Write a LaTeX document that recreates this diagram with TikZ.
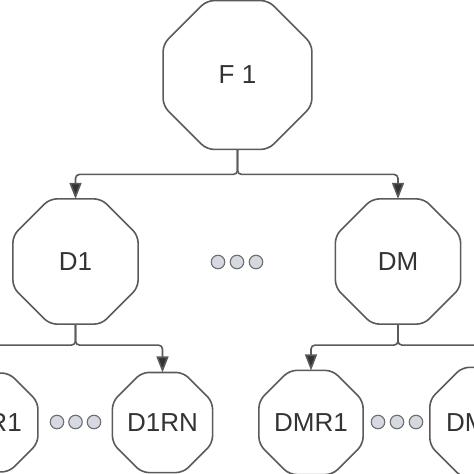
\documentclass[tikz,border=0pt]{standalone}
\usepackage{fontspec}
\setmainfont{Liberation Sans}
\usetikzlibrary{shapes.geometric,arrows.meta}
\definecolor{edgegray}{HTML}{5A5A5A}
\definecolor{textgray}{HTML}{333333}
\definecolor{dotfill}{HTML}{D6D9E2}
\definecolor{dotline}{HTML}{6E6E6E}

\begin{document}
\begin{tikzpicture}[x=1pt, y=-1pt,
    octa/.style={draw=edgegray, line width=1.6pt, regular polygon,
                 regular polygon sides=8, inner sep=0pt, outer sep=0pt,
                 rounded corners=7pt, text=textgray, font=\fontsize{26}{30}\selectfont},
    big/.style={octa, minimum size=161pt},
    mid/.style={octa, minimum size=135.5pt},
    small/.style={octa, minimum size=107pt},
    dot/.style={circle, draw=dotline, fill=dotfill, line width=1.1pt,
                minimum size=13.5pt, inner sep=0pt},
    link/.style={draw=edgegray, line width=1.6pt, rounded corners=4pt,
                 -{Triangle[width=12pt, length=16pt, fill=textgray]}},
]
\useasboundingbox (0,0) rectangle (474,474);
\clip (0,0) rectangle (474,474);

% top level
\node[big] (f1) at (237.5,75) {F 1};

% middle level
\node[mid] (d1) at (75.5,261.5) {D1};
\node[mid] (dm) at (398,261.5) {DM};
\node[dot] (md1) at (218,262) {};
\node[dot] (md2) at (237,262) {};
\node[dot] (md3) at (256,262) {};

% bottom level
\node[small] (d1r1) at (-11.5,422.5) {D1R1};
\node[small] (d1rn) at (162.5,422.5) {D1RN};
\node[small] (dmr1) at (311,422.5) {DMR1};
\node[small] (dmrn) at (485,422.5) {DMRN};
\node[dot] (ld1) at (57,422) {};
\node[dot] (ld2) at (75.5,422) {};
\node[dot] (ld3) at (94,422) {};
\node[dot] (rd1) at (378,422) {};
\node[dot] (rd2) at (397,422) {};
\node[dot] (rd3) at (416,422) {};

% connectors
\draw[link] (f1.south) -- ++(0,25) -| (d1.north);
\draw[link] (f1.south) -- ++(0,25) -| (dm.north);
\draw[link] (d1.south) -- ++(0,21) -| (d1r1.north);
\draw[link] (d1.south) -- ++(0,21) -| (d1rn.north);
\draw[link] (dm.south) -- ++(0,21) -| (dmr1.north);
\draw[link] (dm.south) -- ++(0,21) -| (dmrn.north);
\end{tikzpicture}
\end{document}
